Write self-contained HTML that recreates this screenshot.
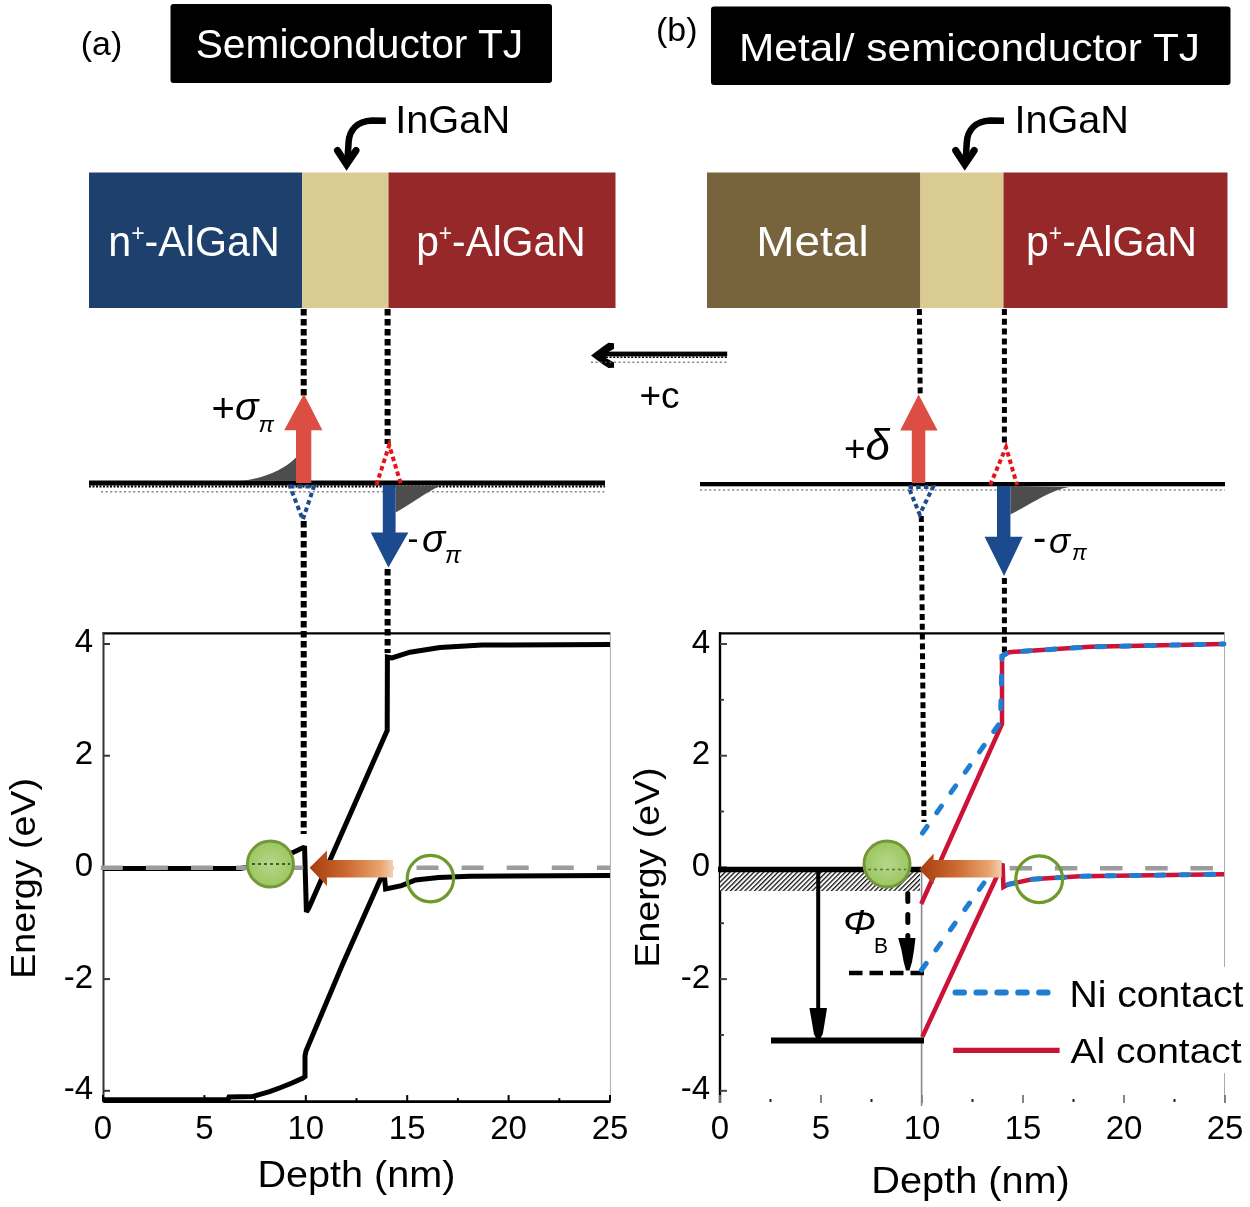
<!DOCTYPE html>
<html><head><meta charset="utf-8"><title>Semiconductor TJ vs Metal/semiconductor TJ</title>
<style>
html,body{margin:0;padding:0;background:#fff;}
body{width:1250px;height:1207px;overflow:hidden;}
svg{display:block;}
text{font-family:"Liberation Sans", "DejaVu Sans", sans-serif;}
.ser{font-family:"Liberation Serif", "DejaVu Serif", serif;}
</style></head><body>
<svg width="1250" height="1207" viewBox="0 0 1250 1207">
<defs>
<pattern id="hatch" width="3.4" height="3.4" patternUnits="userSpaceOnUse" patternTransform="rotate(45)">
<rect width="3.4" height="3.4" fill="#fff"/><line x1="0" y1="0" x2="0" y2="3.4" stroke="#111" stroke-width="2.6"/>
</pattern>
<linearGradient id="og" x1="0" y1="0" x2="1" y2="0">
<stop offset="0" stop-color="#a83c10"/><stop offset="0.45" stop-color="#cc6a30"/><stop offset="0.85" stop-color="#eaa470"/><stop offset="1" stop-color="#f3d0b0"/>
</linearGradient>
<radialGradient id="gg" cx="0.5" cy="0.5" r="0.5">
<stop offset="0" stop-color="#b4d88a"/><stop offset="1" stop-color="#9cc660"/>
</radialGradient>
</defs>
<rect width="1250" height="1207" fill="#fff"/>

<text x="80.8" y="55" font-size="34" textLength="41.5" lengthAdjust="spacingAndGlyphs">(a)</text>
<text x="656" y="40.5" font-size="34" textLength="41.5" lengthAdjust="spacingAndGlyphs">(b)</text>
<rect x="170.5" y="4" width="381.5" height="79" rx="3" fill="#000"/>
<text x="195.7" y="58.3" font-size="40" fill="#fff" textLength="327.5" lengthAdjust="spacingAndGlyphs">Semiconductor TJ</text>
<rect x="711" y="6.5" width="519.5" height="78.5" rx="3" fill="#000"/>
<text x="739" y="60.5" font-size="39" fill="#fff" textLength="461" lengthAdjust="spacingAndGlyphs">Metal/ semiconductor TJ</text>
<text x="395.2" y="132.5" font-size="39" textLength="115" lengthAdjust="spacingAndGlyphs">InGaN</text>
<text x="1014.4" y="132.7" font-size="39" textLength="114.5" lengthAdjust="spacingAndGlyphs">InGaN</text>
<path d="M 385.8 120.7 L 372.0 120.6 C 357.0 121.5 349.5 130 348.6 142 L 347.6 158" fill="none" stroke="#000" stroke-width="6.5" stroke-linecap="butt"/><polyline points="337.5 150.5 346.6 164.5 356.0 150.5" fill="none" stroke="#000" stroke-width="7" stroke-linejoin="miter" stroke-miterlimit="6" stroke-linecap="round"/>
<path d="M 1004.0 120.7 L 990.2 120.6 C 975.2 121.5 967.7 130 966.8 142 L 965.8 158" fill="none" stroke="#000" stroke-width="6.5" stroke-linecap="butt"/><polyline points="955.7 150.5 964.8 164.5 974.2 150.5" fill="none" stroke="#000" stroke-width="7" stroke-linejoin="miter" stroke-miterlimit="6" stroke-linecap="round"/>
<rect x="89" y="172.5" width="213.2" height="135.5" fill="#1e406c"/>
<rect x="302.2" y="172.5" width="86.3" height="135.5" fill="#dacb92"/>
<rect x="388.5" y="172.5" width="227" height="135.5" fill="#972829"/>
<rect x="707" y="172.5" width="213.4" height="135.5" fill="#77643d"/>
<rect x="920.4" y="172.5" width="83.1" height="135.5" fill="#dacb92"/>
<rect x="1003.5" y="172.5" width="224" height="135.5" fill="#972829"/>
<text x="108.2" y="256.4" font-size="43" fill="#fff" textLength="171.6" lengthAdjust="spacingAndGlyphs">n<tspan font-size="24" dy="-15">+</tspan><tspan dy="15">-AlGaN</tspan></text>
<text x="416.2" y="256.4" font-size="43" fill="#fff" textLength="169.4" lengthAdjust="spacingAndGlyphs">p<tspan font-size="24" dy="-15">+</tspan><tspan dy="15">-AlGaN</tspan></text>
<text x="1026" y="256.4" font-size="43" fill="#fff" textLength="171" lengthAdjust="spacingAndGlyphs">p<tspan font-size="24" dy="-15">+</tspan><tspan dy="15">-AlGaN</tspan></text>
<text x="756.3" y="256.3" font-size="43" fill="#fff" textLength="112.3" lengthAdjust="spacingAndGlyphs">Metal</text>
<line x1="303.7" y1="309" x2="303.7" y2="396" stroke="#000" stroke-width="6" stroke-dasharray="6.5 3.5"/>
<line x1="303.7" y1="521" x2="303.7" y2="834" stroke="#000" stroke-width="6" stroke-dasharray="6.5 3.5"/>
<line x1="387.6" y1="309" x2="387.6" y2="444" stroke="#000" stroke-width="6" stroke-dasharray="6.5 3.5"/>
<line x1="387.6" y1="569" x2="387.6" y2="653" stroke="#000" stroke-width="6" stroke-dasharray="6.5 3.5"/>
<line x1="919.4" y1="309" x2="920.2" y2="397" stroke="#000" stroke-width="5" stroke-dasharray="6 3.8"/>
<line x1="921.3" y1="516" x2="924" y2="822" stroke="#000" stroke-width="5" stroke-dasharray="6 3.8"/>
<line x1="1004.4" y1="309" x2="1004.4" y2="446" stroke="#000" stroke-width="5" stroke-dasharray="6 3.8"/>
<line x1="1004.4" y1="578" x2="1004.4" y2="653" stroke="#000" stroke-width="5" stroke-dasharray="6 3.8"/>
<rect x="89" y="480.5" width="516" height="5" fill="#000"/>
<line x1="89" y1="486.6" x2="605" y2="486.6" stroke="#000" stroke-width="2" stroke-dasharray="2 1.5"/>
<line x1="101" y1="491.8" x2="605" y2="491.8" stroke="#666" stroke-width="1.6" stroke-dasharray="2 2.6" opacity="0.8"/>
<path d="M 240 481 C 262 479 284 470 296 457.5 L 296 481 Z" fill="#4d4d4d"/>
<path d="M 395.6 486 L 395.6 512.4 C 410 505 426 492 440 486 Z" fill="#4d4d4d"/>
<polygon points="296,483 296,430.2 284.2,430.2 303.9,394 322.4,430.2 311.3,430.2 311.3,483" fill="#dc4d43"/>
<polyline points="376.4,485 389.2,445.2 401.2,485" fill="none" stroke="#e4141a" stroke-width="4" stroke-dasharray="4.5 3.2"/>
<polygon points="290,486.5 314,486.5 302.8,519.6" fill="none" stroke="#1f4b8e" stroke-width="4" stroke-dasharray="4.5 3.2"/>
<polygon points="382.8,485 395.6,485 395.6,532.4 408.4,532.4 388.4,567.6 370.8,532.4 382.8,532.4" fill="#1b4a8e"/>
<text x="211.5" y="422" font-size="40">+</text>
<text x="235" y="419.6" font-size="39" font-style="italic">σ</text>
<text x="258.5" y="432" font-size="23" font-style="italic">π</text>
<text x="407.5" y="550" font-size="33">-</text>
<text x="422" y="552.4" font-size="38.5" font-style="italic">σ</text>
<text x="445" y="562.8" font-size="24" font-style="italic">π</text>
<rect x="600" y="351.6" width="127.2" height="4.8" fill="#000"/>
<line x1="606" y1="357.2" x2="727" y2="357.2" stroke="#000" stroke-width="1.6" stroke-dasharray="2 1.6"/>
<polygon points="591,355.6 603,346.5 608.5,342.8 614,343.3 614,348.8 606,353.5 606,358 614,362.5 614,367.8 608.5,368 603,364.5" fill="#000"/>
<line x1="591" y1="362.2" x2="727" y2="362.2" stroke="#666" stroke-width="1.6" stroke-dasharray="2 2.6" opacity="0.8"/>
<text x="639.5" y="408" font-size="37">+c</text>
<rect x="700" y="482" width="525" height="4.3" fill="#000"/>
<line x1="700" y1="490" x2="1225" y2="490" stroke="#666" stroke-width="1.6" stroke-dasharray="2 2.6" opacity="0.8"/>
<path d="M 1010.4 486 L 1010.4 514.4 C 1028 506 1048 491 1069 487 Z" fill="#4d4d4d"/>
<polygon points="911.8,483 911.8,430.4 900.2,430.4 918.6,394.6 937.6,430.4 925.3,430.4 925.3,483" fill="#dc4d43"/>
<polyline points="990.2,485 1006,447.2 1017.1,485" fill="none" stroke="#e4141a" stroke-width="4" stroke-dasharray="4.5 3.2"/>
<polygon points="908.5,487 933,487 919.7,514.4" fill="none" stroke="#1f4b8e" stroke-width="4" stroke-dasharray="4.5 3.2"/>
<polygon points="997,486 1010.4,486 1010.4,536.8 1022.7,536.8 1004.1,576 984.6,536.8 997,536.8" fill="#1b4a8e"/>
<text x="844" y="460.5" font-size="37">+</text>
<text x="865.5" y="460.2" font-size="44" font-style="italic">δ</text>
<text x="1033" y="550.5" font-size="40">-</text>
<text x="1049" y="552.5" font-size="35" font-style="italic">σ</text>
<text x="1072" y="560.3" font-size="22" font-style="italic">π</text>
<line x1="102.5" y1="633.3" x2="610.4" y2="633.3" stroke="#000" stroke-width="2.2"/>
<line x1="610.4" y1="633.3" x2="610.4" y2="1101.6" stroke="#aaa" stroke-width="1"/>
<line x1="103.5" y1="632.3" x2="103.5" y2="1102.6" stroke="#333" stroke-width="2"/>
<line x1="103.5" y1="1101.6" x2="610.4" y2="1101.6" stroke="#000" stroke-width="2.6"/>
<line x1="103.5" y1="644.0" x2="110.0" y2="644.0" stroke="#333" stroke-width="2"/>
<text x="93" y="652.4" font-size="33" text-anchor="end">4</text>
<line x1="103.5" y1="755.7" x2="110.0" y2="755.7" stroke="#333" stroke-width="2"/>
<text x="93" y="764.1" font-size="33" text-anchor="end">2</text>
<line x1="103.5" y1="867.4" x2="110.0" y2="867.4" stroke="#333" stroke-width="2"/>
<text x="93" y="875.8" font-size="33" text-anchor="end">0</text>
<line x1="103.5" y1="979.1" x2="110.0" y2="979.1" stroke="#333" stroke-width="2"/>
<text x="93" y="987.5" font-size="33" text-anchor="end">-2</text>
<line x1="103.5" y1="1090.8" x2="110.0" y2="1090.8" stroke="#333" stroke-width="2"/>
<text x="93" y="1099.2" font-size="33" text-anchor="end">-4</text>
<line x1="103.0" y1="1101.6" x2="103.0" y2="1095.1" stroke="#000" stroke-width="2"/>
<text x="103.0" y="1139.4" font-size="33" text-anchor="middle">0</text>
<line x1="204.4" y1="1101.6" x2="204.4" y2="1095.1" stroke="#000" stroke-width="2"/>
<text x="204.4" y="1139.4" font-size="33" text-anchor="middle">5</text>
<line x1="305.8" y1="1101.6" x2="305.8" y2="1095.1" stroke="#000" stroke-width="2"/>
<text x="305.8" y="1139.4" font-size="33" text-anchor="middle">10</text>
<line x1="407.2" y1="1101.6" x2="407.2" y2="1095.1" stroke="#000" stroke-width="2"/>
<text x="407.2" y="1139.4" font-size="33" text-anchor="middle">15</text>
<line x1="508.6" y1="1101.6" x2="508.6" y2="1095.1" stroke="#000" stroke-width="2"/>
<text x="508.6" y="1139.4" font-size="33" text-anchor="middle">20</text>
<line x1="610.0" y1="1101.6" x2="610.0" y2="1095.1" stroke="#000" stroke-width="2"/>
<text x="610.0" y="1139.4" font-size="33" text-anchor="middle">25</text>
<line x1="153.7" y1="1101.6" x2="153.7" y2="1098.1" stroke="#000" stroke-width="2"/>
<line x1="255.1" y1="1101.6" x2="255.1" y2="1098.1" stroke="#000" stroke-width="2"/>
<line x1="356.5" y1="1101.6" x2="356.5" y2="1098.1" stroke="#000" stroke-width="2"/>
<line x1="457.9" y1="1101.6" x2="457.9" y2="1098.1" stroke="#000" stroke-width="2"/>
<line x1="559.3" y1="1101.6" x2="559.3" y2="1098.1" stroke="#000" stroke-width="2"/>
<text transform="translate(34.7 978.8) rotate(-90)" font-size="35" textLength="200.8" lengthAdjust="spacingAndGlyphs">Energy (eV)</text>
<text x="257.4" y="1187" font-size="36" textLength="198" lengthAdjust="spacingAndGlyphs">Depth (nm)</text>
<polyline points="103,1099.7 228,1099.7 229,1097 252.8,1096.4 260,1094.4 269.6,1091.6 280.8,1087.5 292,1083 302.5,1078.2 305,1076.5 305,1056 306,1051 342.5,964.5 380.5,879 384.2,874 385.6,889 401.6,885.6 415.6,880 438.8,877.5 470,876.3 610,875.5" fill="none" stroke="#000" stroke-width="5" stroke-linejoin="miter" stroke-miterlimit="2"/>
<polyline points="103,868.6 240,868.4 262,865 282,857 294,852 303.2,847.6 304.6,848 306.4,912 308.8,908 387.2,730.4 387.4,657 392,658 410,652.2 440,647.6 482,645 610,644.6" fill="none" stroke="#000" stroke-width="5" stroke-linejoin="miter" stroke-miterlimit="2"/>
<line x1="100.8" y1="867.8" x2="610" y2="867.8" stroke="#9c9c9c" stroke-width="4.6" stroke-dasharray="22 23.1"/>
<circle cx="270.4" cy="864" r="23" fill="url(#gg)" stroke="#74973a" stroke-width="3"/>
<line x1="252" y1="864" x2="290" y2="864" stroke="#222" stroke-width="1.8" stroke-dasharray="3 3" opacity="0.7"/>
<circle cx="430.4" cy="878.6" r="23.2" fill="none" stroke="#6e9a2c" stroke-width="3.2"/>
<polygon points="309.6,867.8 327,850.4 327,860 393,860 393,877.4 327,877.4 327,886" fill="url(#og)"/>
<line x1="719" y1="633.3" x2="1224.5" y2="633.3" stroke="#000" stroke-width="2.2"/>
<line x1="1224.5" y1="633.3" x2="1224.5" y2="967" stroke="#aaa" stroke-width="1"/>
<line x1="1224.5" y1="1073" x2="1224.5" y2="1102.6" stroke="#aaa" stroke-width="1"/>
<line x1="720" y1="632.3" x2="720" y2="1103" stroke="#000" stroke-width="2.4"/>
<line x1="720" y1="644.0" x2="727" y2="644.0" stroke="#444" stroke-width="2"/>
<text x="710" y="652.6" font-size="33" text-anchor="end">4</text>
<line x1="720" y1="755.7" x2="727" y2="755.7" stroke="#444" stroke-width="2"/>
<text x="710" y="764.3" font-size="33" text-anchor="end">2</text>
<line x1="720" y1="867.4" x2="727" y2="867.4" stroke="#444" stroke-width="2"/>
<text x="710" y="876.0" font-size="33" text-anchor="end">0</text>
<line x1="720" y1="979.1" x2="727" y2="979.1" stroke="#444" stroke-width="2"/>
<text x="710" y="987.7" font-size="33" text-anchor="end">-2</text>
<line x1="720" y1="1090.8" x2="727" y2="1090.8" stroke="#444" stroke-width="2"/>
<text x="710" y="1099.4" font-size="33" text-anchor="end">-4</text>
<line x1="720" y1="699.8" x2="724" y2="699.8" stroke="#333" stroke-width="1.8"/>
<line x1="720" y1="811.5" x2="724" y2="811.5" stroke="#333" stroke-width="1.8"/>
<line x1="720" y1="923.2" x2="724" y2="923.2" stroke="#333" stroke-width="1.8"/>
<line x1="720" y1="1035.0" x2="724" y2="1035.0" stroke="#333" stroke-width="1.8"/>
<line x1="720.0" y1="1103" x2="720.0" y2="1095" stroke="#777" stroke-width="1.8"/>
<text x="720.0" y="1139.4" font-size="33" text-anchor="middle">0</text>
<line x1="821.0" y1="1103" x2="821.0" y2="1095" stroke="#777" stroke-width="1.8"/>
<text x="821.0" y="1139.4" font-size="33" text-anchor="middle">5</text>
<line x1="922.0" y1="1103" x2="922.0" y2="1095" stroke="#777" stroke-width="1.8"/>
<text x="922.0" y="1139.4" font-size="33" text-anchor="middle">10</text>
<line x1="1023.0" y1="1103" x2="1023.0" y2="1095" stroke="#777" stroke-width="1.8"/>
<text x="1023.0" y="1139.4" font-size="33" text-anchor="middle">15</text>
<line x1="1124.0" y1="1103" x2="1124.0" y2="1095" stroke="#777" stroke-width="1.8"/>
<text x="1124.0" y="1139.4" font-size="33" text-anchor="middle">20</text>
<line x1="1225.0" y1="1103" x2="1225.0" y2="1095" stroke="#777" stroke-width="1.8"/>
<text x="1225.0" y="1139.4" font-size="33" text-anchor="middle">25</text>
<line x1="770.5" y1="1102" x2="770.5" y2="1099" stroke="#222" stroke-width="2"/>
<line x1="871.5" y1="1102" x2="871.5" y2="1099" stroke="#222" stroke-width="2"/>
<line x1="972.5" y1="1102" x2="972.5" y2="1099" stroke="#222" stroke-width="2"/>
<line x1="1073.5" y1="1102" x2="1073.5" y2="1099" stroke="#222" stroke-width="2"/>
<line x1="1174.5" y1="1102" x2="1174.5" y2="1099" stroke="#222" stroke-width="2"/>
<line x1="921.6" y1="868" x2="921.6" y2="1106" stroke="#888" stroke-width="1.6"/>
<text transform="translate(658.5 967.6) rotate(-90)" font-size="35" textLength="200.2" lengthAdjust="spacingAndGlyphs">Energy (eV)</text>
<text x="871.3" y="1192.6" font-size="36" textLength="198.5" lengthAdjust="spacingAndGlyphs">Depth (nm)</text>
<rect x="720" y="872" width="200" height="19" fill="url(#hatch)"/>
<line x1="718" y1="869.5" x2="921" y2="869.5" stroke="#000" stroke-width="5.5"/>
<line x1="818.2" y1="872" x2="818.2" y2="1014" stroke="#000" stroke-width="4"/>
<polygon points="809.4,1008 827,1008 824.8,1022 822.8,1034 820.5,1038 816,1038 813.9,1034 811.9,1022" fill="#000"/>
<line x1="771" y1="1040.5" x2="924" y2="1040.5" stroke="#000" stroke-width="6.2"/>
<line x1="907.8" y1="893.5" x2="907.8" y2="938" stroke="#000" stroke-width="5" stroke-linecap="round" stroke-dasharray="8 13"/>
<polygon points="898.2,938 915.5,938 914,950 912,962 909.5,970.5 906,970.5 903.7,962 901.5,950" fill="#000"/>
<line x1="849" y1="973" x2="924.5" y2="973" stroke="#000" stroke-width="4.6" stroke-dasharray="13.5 7"/>
<text x="843" y="933.5" font-size="36" font-style="italic" textLength="33" lengthAdjust="spacingAndGlyphs">Φ</text>
<text x="874" y="953.2" font-size="22" textLength="14" lengthAdjust="spacingAndGlyphs">B</text>
<polyline points="922.4,1036.8 995.2,880 1002.6,863.5 1003.4,887 1008,884.5 1032,879.2 1080,876.2 1224,874.2" fill="none" stroke="#cc1236" stroke-width="4.5" stroke-linejoin="miter" stroke-miterlimit="2"/>
<polyline points="921.2,904 1002,724 1002,656 1009,652.2 1090,646.8 1224,644" fill="none" stroke="#cc1236" stroke-width="4.5" stroke-linejoin="miter" stroke-miterlimit="2"/>
<polyline points="921.5,970 994,869 1001,863.5" fill="none" stroke="#1e7ed2" stroke-width="5" stroke-linecap="round" stroke-dasharray="8 16.8"/>
<polyline points="1008,884.5 1032,879.2 1080,876.2 1224,874.2" fill="none" stroke="#1e7ed2" stroke-width="5" stroke-linecap="round" stroke-dasharray="8 16.8"/>
<polyline points="922.5,833 1000.5,722 1002,656 1009,652.2 1090,646.8 1224,644" fill="none" stroke="#1e7ed2" stroke-width="5" stroke-linecap="round" stroke-dasharray="8 16.8"/>
<line x1="1009.6" y1="868.2" x2="1224" y2="868.2" stroke="#9c9c9c" stroke-width="4.6" stroke-dasharray="22.5 22.7"/>
<circle cx="887" cy="864" r="23" fill="url(#gg)" stroke="#74973a" stroke-width="3"/>
<line x1="868" y1="869.5" x2="906" y2="869.5" stroke="#333" stroke-width="1.5" stroke-dasharray="3 3" opacity="0.6"/>
<circle cx="1039.2" cy="879.2" r="23.4" fill="none" stroke="#6e9a2c" stroke-width="3.2"/>
<polygon points="919.2,869.6 933.6,853.6 933.6,860 1001.6,860 1001.6,877.6 933.6,877.6 933.6,884" fill="url(#og)"/>
<line x1="955.5" y1="992.6" x2="1059.6" y2="992.6" stroke="#1e7ed2" stroke-width="6" stroke-linecap="round" stroke-dasharray="8.5 12.4"/>
<line x1="953.2" y1="1050.4" x2="1059.6" y2="1050.4" stroke="#cc1236" stroke-width="5.2"/>
<text x="1069.4" y="1007.4" font-size="37" textLength="174" lengthAdjust="spacingAndGlyphs">Ni contact</text>
<text x="1070.5" y="1063.4" font-size="35" textLength="171.2" lengthAdjust="spacingAndGlyphs">Al contact</text>
</svg>
</body></html>
